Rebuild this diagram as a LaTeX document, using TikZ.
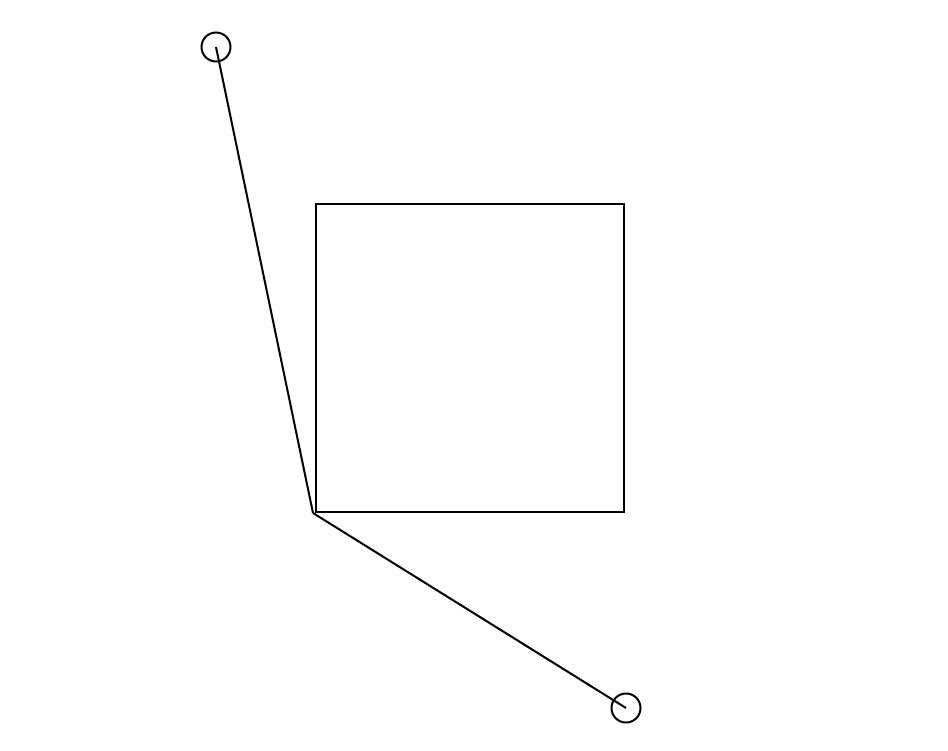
\documentclass[tikz,border=0pt]{standalone}
\usepackage{tikz}
\tikzset{
  handle/.style={circle, draw=black, line width=1pt, minimum size=14.5pt, inner sep=0pt},
  frame/.style={rectangle, draw=black, line width=1.1pt, minimum size=154pt, inner sep=0pt, anchor=south west}
}

\begin{document}
\begin{tikzpicture}[x=0.5pt, y=-0.5pt]
        \useasboundingbox (0, 0) rectangle (948, 750);
        \node[frame] (box) at (315, 513) {};
        \node[handle] (h1) at (216, 47) {};
        \node[handle] (h2) at (626, 708) {};
        \coordinate (c) at (313, 513);

        \foreach \to in {h1, h2}
        \draw[line width=1pt] (c) -- (\to.center);
\end{tikzpicture}
\end{document}
